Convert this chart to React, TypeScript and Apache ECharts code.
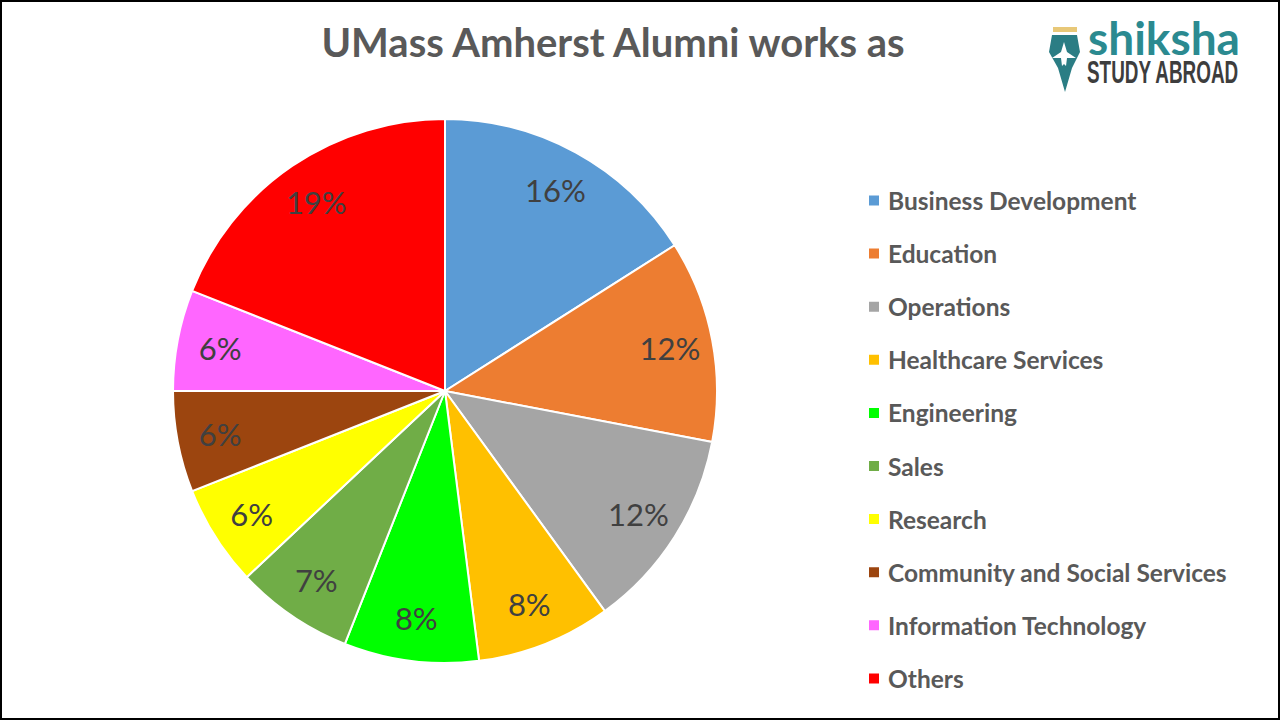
import React, { useEffect, useRef } from "react";
import * as echarts from "echarts";

const categories = [
  "Business Development",
  "Education",
  "Operations",
  "Healthcare Services",
  "Engineering",
  "Sales",
  "Research",
  "Community and Social Services",
  "Information Technology",
  "Others",
];
const values = [16, 12, 12, 8, 8, 7, 6, 6, 6, 19];
const colors = [
  "#5b9bd5",
  "#ed7d31",
  "#a5a5a5",
  "#ffc000",
  "#00ff00",
  "#70ad47",
  "#ffff00",
  "#9c450f",
  "#ff66ff",
  "#ff0000",
];
const titleText = "UMass Amherst Alumni works as";

const FONT = "Lato, 'Open Sans', sans-serif";

export default function App() {
  const ref = useRef<HTMLDivElement>(null);
  useEffect(() => {
    if (!ref.current) return;
    const chart = echarts.init(ref.current, null, { renderer: "svg" });
    const data = categories.map((name, i) => ({
      name,
      value: values[i],
      itemStyle: { color: colors[i] },
    }));
    const center = [445, 391];
    chart.setOption({
      animation: false,
      backgroundColor: "#ffffff",
      title: {
        text: titleText,
        left: 608,
        top: 17,
        textAlign: "center",
        textStyle: {
          fontFamily: FONT,
          fontSize: 40,
          fontWeight: "bold",
          color: "#595959",
        },
      },
      legend: {
        orient: "vertical",
        left: 867,
        top: 188,
        padding: 0,
        itemWidth: 12,
        itemHeight: 12,
        itemGap: 28.1,
        icon: "rect",
        data: categories,
        textStyle: {
          fontFamily: FONT,
          fontSize: 24.5,
          fontWeight: "bold",
          color: "#595959",
          lineHeight: 24,
          padding: [0, 0, 0, 3],
        },
      },
      series: [
        {
          type: "pie",
          center,
          radius: [0, 272],
          startAngle: 90,
          clockwise: true,
          avoidLabelOverlap: false,
          data,
          itemStyle: { borderColor: "#ffffff", borderWidth: 2 },
          label: { show: false },
          labelLine: { show: false },
          silent: true,
        },
        {
          type: "pie",
          center,
          radius: [180, 272],
          startAngle: 90,
          clockwise: true,
          avoidLabelOverlap: false,
          data: categories.map((name, i) => ({ name, value: values[i] })),
          itemStyle: { color: "rgba(0,0,0,0)", borderWidth: 0 },
          label: {
            show: true,
            position: "inside",
            formatter: (p: any) => Math.round(p.percent) + "%",
            fontFamily: FONT,
            fontSize: 31,
            color: "#404040",
          },
          labelLine: { show: false },
          silent: true,
          legendHoverLink: false,
        },
      ],
      graphic: [
        {
          type: "rect",
          shape: { x: 1, y: 1, width: 1278, height: 718 },
          style: { fill: "none", stroke: "#000000", lineWidth: 2 },
          silent: true,
        },
        {
          type: "rect",
          shape: { x: 1053, y: 27, width: 24, height: 5 },
          style: { fill: "#e8c878" },
        },
        {
          type: "polygon",
          shape: {
            points: [
              [1052, 35],
              [1077, 35],
              [1080, 52],
              [1072, 68],
              [1065, 92],
              [1058, 68],
              [1049, 52],
            ],
          },
          style: { fill: "#2b7d84" },
        },
        {
          type: "polygon",
          shape: {
            points: [
              [1064, 42],
              [1067, 52],
              [1076, 58],
              [1067, 58],
              [1066, 66],
              [1064, 64],
              [1062, 66],
              [1061, 58],
              [1052, 58],
              [1061, 52],
            ],
          },
          style: { fill: "#ffffff" },
        },
        {
          type: "text",
          x: 1088,
          y: 14,
          style: {
            text: "shiksha",
            font: "bold 46px " + FONT,
            fill: "#2b8a90",
            textVerticalAlign: "top",
          },
        },
        {
          type: "text",
          x: 1087,
          y: 57,
          scaleX: 0.61,
          style: {
            text: "STUDY ABROAD",
            font: "bold 31px 'Liberation Sans', Arial, sans-serif",
            fill: "#3d3d3d",
            textVerticalAlign: "top",
          },
        },
      ],
    });
    return () => chart.dispose();
  }, []);
  return (
    <div
      ref={ref}
      style={{ position: "absolute", left: 0, top: 0, width: 1280, height: 720 }}
    />
  );
}
